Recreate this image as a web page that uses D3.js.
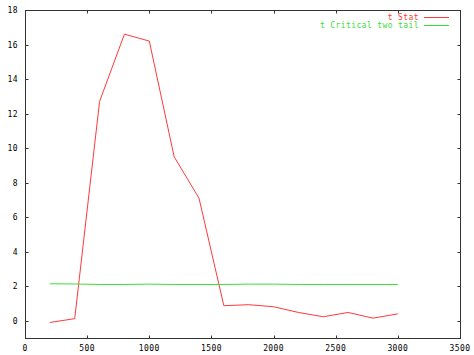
<!DOCTYPE html>
<html>
<head>
<meta charset="utf-8">
<script src="https://cdn.jsdelivr.net/npm/d3@7"></script>
<style>
  body { margin: 0; background: #fff; }
  text { font-family: "DejaVu Sans Mono", monospace; font-size: 8px; letter-spacing: 0.4px; }
</style>
</head>
<body>
<svg id="chart" width="474" height="355"></svg>
<script>
// sample sizes on the x axis
const xValues = [200, 400, 600, 800, 1000, 1200, 1400, 1600, 1800, 2000, 2200, 2400, 2600, 2800, 3000];
// t Stat series
const tStat = [-0.1, 0.12, 12.7, 16.6, 16.2, 9.5, 7.1, 0.87, 0.93, 0.81, 0.48, 0.23, 0.48, 0.15, 0.4];
// t Critical two tail series
const tCrit = [2.14, 2.13, 2.1, 2.1, 2.12, 2.1, 2.1, 2.1, 2.12, 2.12, 2.1, 2.1, 2.1, 2.1, 2.1];
const xTicks = [0, 500, 1000, 1500, 2000, 2500, 3000, 3500];
const yTicks = [0, 2, 4, 6, 8, 10, 12, 14, 16, 18];

const svg = d3.select("#chart");
const plotLeft = 25, plotRight = 460, plotTop = 10, plotBottom = 338;

const x = d3.scaleLinear().domain([0, 3500]).range([plotLeft, plotRight]);
const y = d3.scaleLinear().domain([-1, 18]).range([plotBottom, plotTop]);

// frame
svg.append("rect")
    .attr("x", plotLeft + 0.5).attr("y", plotTop + 0.5)
    .attr("width", plotRight - plotLeft).attr("height", plotBottom - plotTop)
    .attr("fill", "none").attr("stroke", "#333").attr("stroke-width", 1);

// ticks on all four sides, pointing inward
const tickLen = 3;
const g = svg.append("g").attr("stroke", "#333").attr("transform", "translate(0.5,0.5)");
xTicks.forEach(t => {
    const px = Math.round(x(t));
    g.append("line").attr("x1", px).attr("x2", px).attr("y1", plotBottom).attr("y2", plotBottom - tickLen);
    g.append("line").attr("x1", px).attr("x2", px).attr("y1", plotTop).attr("y2", plotTop + tickLen);
});
yTicks.forEach(t => {
    const py = Math.round(y(t));
    g.append("line").attr("x1", plotLeft).attr("x2", plotLeft + tickLen).attr("y1", py).attr("y2", py);
    g.append("line").attr("x1", plotRight).attr("x2", plotRight - tickLen).attr("y1", py).attr("y2", py);
});

svg.append("g").selectAll("text")
    .data(xTicks).enter().append("text")
    .attr("x", d => x(d)).attr("y", plotBottom + 13)
    .attr("text-anchor", "middle").attr("fill", "#000")
    .text(d => d);

svg.append("g").selectAll("text")
    .data(yTicks).enter().append("text")
    .attr("x", 18).attr("y", d => y(d) + 3)
    .attr("text-anchor", "end").attr("fill", "#000")
    .text(d => d);

const line = d3.line().x(d => x(d[0])).y(d => y(d[1]));

const series = [
    { name: "t Stat", values: tStat, color: "#ff3a3a" },
    { name: "t Critical two tail", values: tCrit, color: "#3ae03a" }
];

series.forEach((s, i) => {
    svg.append("path")
        .datum(xValues.map((v, j) => [v, s.values[j]]))
        .attr("d", line)
        .attr("fill", "none")
        .attr("stroke", s.color)
        .attr("stroke-width", 1);

    const ly = 17 + i * 8;
    svg.append("text")
        .attr("x", 419).attr("y", ly + 3)
        .attr("text-anchor", "end").attr("fill", s.color)
        .text(s.name);
    svg.append("line")
        .attr("x1", 424).attr("x2", 449).attr("y1", ly + 0.5).attr("y2", ly + 0.5)
        .attr("stroke", s.color);
});
</script>
</body>
</html>
